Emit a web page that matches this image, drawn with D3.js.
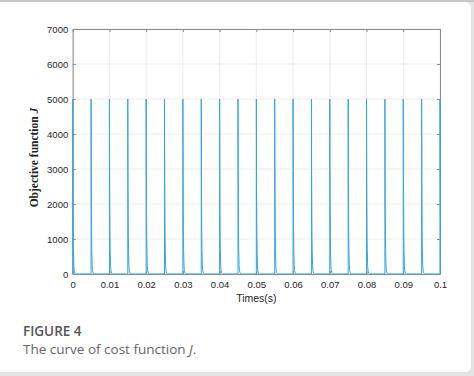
<!DOCTYPE html>
<html>
<head>
<meta charset="utf-8">
<script src="https://cdn.jsdelivr.net/npm/d3@7"></script>
<style>
  html, body { margin: 0; padding: 0; background: #e4e4e4; }
  svg { display: block; }
</style>
</head>
<body>
<svg id="chart" width="474" height="376"></svg>
<script>
// Spike start times (s), one every 5 ms
const spikeTimes = [0, 0.005, 0.01, 0.015, 0.02, 0.025, 0.03, 0.035, 0.04, 0.045, 0.05,
  0.055, 0.06, 0.065, 0.07, 0.075, 0.08, 0.085, 0.09, 0.095, 0.1];
// Shape of one spike: offset from spike start (s) and J value
const pulseOffsets = [0, 0, 0.00005, 0.0001, 0.00015, 0.0002, 0.0003, 0.0004, 0.0006, 0.0008];
const pulseValues = [0, 5000, 3000, 1850, 1100, 700, 250, 100, 20, 0];

const xTicks = [0, 0.01, 0.02, 0.03, 0.04, 0.05, 0.06, 0.07, 0.08, 0.09, 0.1];
const yTicks = [0, 1000, 2000, 3000, 4000, 5000, 6000, 7000];

// Build the line points from the arrays above
const points = [];
spikeTimes.forEach(t0 => {
  pulseOffsets.forEach((dt, i) => points.push([t0 + dt, pulseValues[i]]));
});

const svg = d3.select('#chart');

// card background
svg.append('rect')
  .attr('x', -10).attr('y', 2)
  .attr('width', 481).attr('height', 370)
  .attr('rx', 6)
  .style('fill', '#fff');
svg.append('rect')
  .attr('x', 0).attr('y', 0)
  .attr('width', 474).attr('height', 2)
  .style('fill', '#c8c8c8');

const plotL = 72.7, plotR = 440, plotT = 29, plotB = 274;

const x = d3.scaleLinear().domain([0, 0.1]).range([plotL, plotR]);
const y = d3.scaleLinear().domain([0, 7000]).range([plotB, plotT]);

// grid
const grid = svg.append('g');
grid.selectAll('.gx').data(xTicks).join('line')
  .attr('x1', d => x(d)).attr('x2', d => x(d))
  .attr('y1', plotT).attr('y2', plotB)
  .style('stroke', '#ececec').style('stroke-width', 1);
grid.selectAll('.gy').data(yTicks).join('line')
  .attr('x1', plotL).attr('x2', plotR)
  .attr('y1', d => y(d)).attr('y2', d => y(d))
  .style('stroke', '#ececec').style('stroke-width', 1);

// clip for the curve
svg.append('clipPath').attr('id', 'clip')
  .append('rect')
  .attr('x', plotL - 1).attr('y', plotT)
  .attr('width', plotR - plotL + 2).attr('height', plotB - plotT + 1);

const line = d3.line().x(d => x(d[0])).y(d => y(d[1]));

// axes box, ticks pointing inward
const tickFont = g => g.selectAll('text')
  .style('font-family', '"Liberation Sans", Arial, sans-serif')
  .style('font-size', '9.5px')
  .style('fill', '#262626');
const axisColor = g => {
  g.select('.domain').style('stroke', '#8a8a8a');
  g.selectAll('.tick line').style('stroke', '#8a8a8a');
};

svg.append('g')
  .attr('transform', `translate(0,${plotB})`)
  .call(d3.axisBottom(x).tickValues(xTicks).tickFormat(d3.format('')).tickSizeInner(-3).tickSizeOuter(0).tickPadding(7))
  .call(axisColor).call(tickFont);
svg.append('g')
  .attr('transform', `translate(0,${plotT})`)
  .call(d3.axisTop(x).tickValues(xTicks).tickFormat('').tickSizeInner(-3).tickSizeOuter(0))
  .call(axisColor);
svg.append('g')
  .attr('transform', `translate(${plotL},0)`)
  .call(d3.axisLeft(y).tickValues(yTicks).tickFormat(d3.format('d')).tickSizeInner(-3).tickSizeOuter(0).tickPadding(4.5))
  .call(axisColor).call(tickFont);
svg.append('g')
  .attr('transform', `translate(${plotR},0)`)
  .call(d3.axisRight(y).tickValues(yTicks).tickFormat('').tickSizeInner(-3).tickSizeOuter(0))
  .call(axisColor);

svg.append('path')
  .datum(points)
  .attr('clip-path', 'url(#clip)')
  .attr('d', line)
  .style('fill', 'none')
  .style('stroke', '#35a6d8')
  .style('stroke-width', 1);

// axis titles
svg.append('text')
  .attr('x', (plotL + plotR) / 2)
  .attr('y', 302)
  .attr('text-anchor', 'middle')
  .style('font-family', '"Liberation Sans", Arial, sans-serif')
  .style('font-size', '10.5px')
  .style('fill', '#222')
  .text('Times(s)');

const yLab = svg.append('text')
  .attr('transform', 'translate(38,157.5) rotate(-90)')
  .attr('text-anchor', 'middle')
  .style('font-family', '"Liberation Serif", "Times New Roman", serif')
  .style('font-size', '11.5px')
  .style('font-weight', 'bold')
  .style('fill', '#222');
yLab.append('tspan').text('Objective function ');
yLab.append('tspan').style('font-style', 'italic').text('J');

// caption
svg.append('text')
  .attr('x', 23).attr('y', 336)
  .style('font-family', '"Open Sans", "Noto Sans", sans-serif')
  .style('font-size', '13.5px')
  .style('font-weight', '600')
  .style('fill', '#555')
  .text('FIGURE 4');
const cap = svg.append('text')
  .attr('x', 23).attr('y', 354)
  .style('font-family', '"Open Sans", "Noto Sans", sans-serif')
  .style('font-size', '13.5px')
  .style('fill', '#666');
cap.append('tspan').text('The curve of cost function ');
cap.append('tspan').style('font-style', 'italic').text('J');
cap.append('tspan').text('.');
</script>
</body>
</html>
